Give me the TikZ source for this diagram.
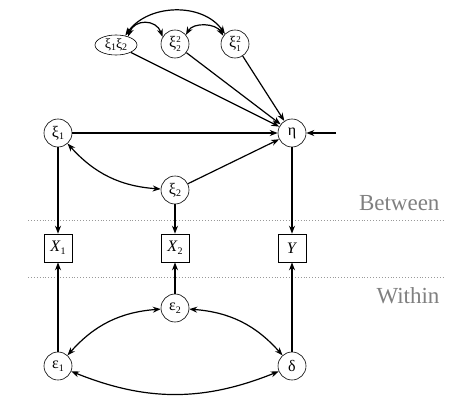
\documentclass[tikz,border=0pt]{standalone}
\usepackage{fontspec}
\setmainfont{Liberation Serif}
\usepackage{tikz}
\usetikzlibrary{arrows.meta,shapes.geometric}

\newcommand{\lowidx}[1]{\raisebox{-0.35ex}{\fontsize{10}{10}\selectfont #1}}
\newcommand{\supsub}[2]{\rlap{\raisebox{0.75ex}{\fontsize{9}{9}\selectfont #1}}\raisebox{-0.6ex}{\fontsize{9}{9}\selectfont #2}}

\tikzset{
  latent/.style={circle,draw,line width=0.6pt,minimum size=28pt,inner sep=0pt,
                 font=\fontsize{16}{16}\selectfont},
  inter/.style={ellipse,draw,line width=0.6pt,minimum width=42pt,minimum height=20pt,
                inner sep=0pt,font=\fontsize{14}{14}\selectfont},
  indicator/.style={rectangle,draw,line width=0.6pt,minimum size=28pt,inner sep=0pt,
                    font=\fontsize{16}{16}\selectfont},
  effect/.style={-{Stealth[length=8pt,width=6pt]},line width=1.2pt},
  covar/.style={{Stealth[length=8pt,width=6pt]}-{Stealth[length=8pt,width=6pt]},line width=1.2pt},
  level/.style={black!50,font=\fontsize{23}{23}\selectfont,anchor=base east}
}

\begin{document}
\begin{tikzpicture}[x=1pt,y=-1pt]
\useasboundingbox (0,0) rectangle (474,412);
% between part
\node[inter]  (xi12) at (116,45) {ξ\lowidx{1}ξ\lowidx{2}};
\node[latent] (xsq2) at (175,44) {ξ\supsub{2}{2}};
\node[latent] (xsq1) at (235,44) {ξ\supsub{2}{1}};
\node[latent] (xi1)  at (58,133) {ξ\lowidx{1}};
\node[latent] (eta)  at (292,133) {η};
\node[latent] (xi2)  at (175,190) {ξ\lowidx{2}};
\coordinate (zeta) at (336,133);
% observed variables
\node[indicator] (x1) at (58,248)  {\textit{X}\lowidx{1}};
\node[indicator] (x2) at (175,248) {\textit{X}\lowidx{2}};
\node[indicator] (y)  at (292,248) {\textit{Y}};
% within part
\node[latent] (eps2)  at (175,308) {ε\lowidx{2}};
\node[latent] (eps1)  at (58,366)  {ε\lowidx{1}};
\node[latent] (delta) at (292,366) {δ};

\draw[black!40,dotted,line width=0.9pt] (28,220) -- (445,220);
\draw[black!40,dotted,line width=0.9pt] (28,277) -- (445,277);
\node[level] (between) at (443,210) {Between};
\node[level] (within)  at (443,303) {Within};

\draw[effect] (xi12) -- (eta);
\draw[effect] (xsq2) -- (eta);
\draw[effect] (xsq1) -- (eta);
\draw[effect] (xi1) -- (eta);
\draw[effect] (xi2) -- (eta);
\draw[effect] (zeta) -- (eta);
\draw[effect] (xi1) -- (x1);
\draw[effect] (xi2) -- (x2);
\draw[effect] (eta) -- (y);
\draw[effect] (eps1) -- (x1);
\draw[effect] (eps2) -- (x2);
\draw[effect] (delta) -- (y);

\draw[covar] (xi12.35) to[out=70,in=110,looseness=1.4] (xsq2.150);
\draw[covar] (xsq2.40) to[out=60,in=120] (xsq1.145);
\draw[covar] (xi12.45) to[out=55,in=125] (xsq1.135);
\draw[covar] (xi1) to[bend right=22] (xi2);
\draw[covar] (eps1) to[bend left=22] (eps2);
\draw[covar] (eps2) to[bend left=22] (delta);
\draw[covar] (eps1) to[bend right=22] (delta);
\end{tikzpicture}
\end{document}
